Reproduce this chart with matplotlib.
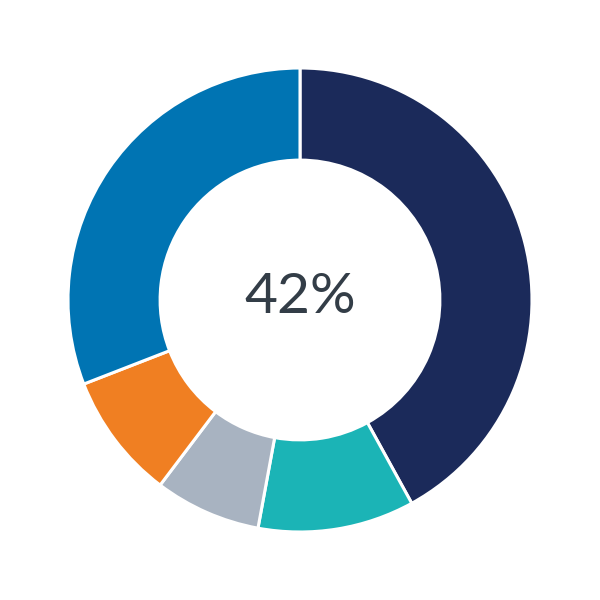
import matplotlib
matplotlib.use("Agg")
import matplotlib.pyplot as plt

# slice shares (clockwise from 12 o'clock)
labels = ["Navy", "Teal", "Grey", "Orange", "Blue"]
values = [42, 10.9, 7.4, 8.8, 30.9]
colors = ["#1b2a5a", "#1bb4b6", "#a8b3c1", "#f07f22", "#0074b3"]
center_text = "42%"

fig = plt.figure(figsize=(6, 6), dpi=100)
ax = fig.add_axes([0, 0, 1, 1])
ax.pie(values, colors=colors, startangle=90, counterclock=False,
       radius=1.0,
       wedgeprops=dict(width=0.397, edgecolor="white", linewidth=2.2))
ax.text(0, 0.01, center_text, ha="center", va="center", fontsize=41,
        color="#333d47", family=["Lato", "DejaVu Sans"], fontweight="normal")
lim = 300 / 232
ax.set_xlim(-lim, lim)
ax.set_ylim(-lim, lim)
ax.set_aspect("equal")
ax.axis("off")
fig.savefig("out.png", dpi=100, facecolor="white")
